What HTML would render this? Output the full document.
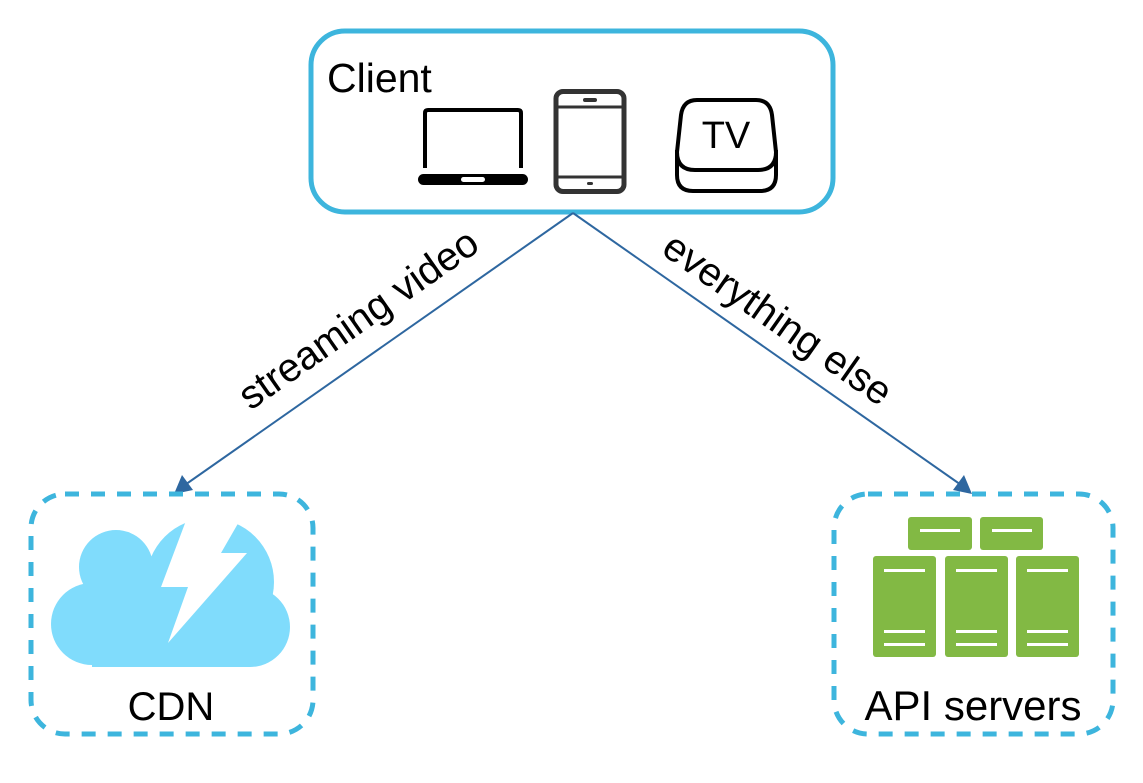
<!DOCTYPE html>
<html><head><meta charset="utf-8"><style>
html,body{margin:0;padding:0;background:#fff;}
svg{display:block;}
text{font-family:"Liberation Sans",Arial,sans-serif;fill:#000;}
</style></head><body>
<svg width="1143" height="783" viewBox="0 0 1143 783" xmlns="http://www.w3.org/2000/svg">
<!-- Client box -->
<rect x="311" y="31" width="522" height="181" rx="34" fill="#fff" stroke="#3db5dd" stroke-width="5"/>
<text x="327" y="92" font-size="41">Client</text>
<!-- laptop -->
<path d="M425 168 V113 Q425 110 428 110 H518 Q521 110 521 113 V168" fill="none" stroke="#000" stroke-width="4"/>
<rect x="418" y="174" width="110" height="11" rx="5.5" fill="#000"/>
<rect x="461" y="177" width="24" height="5" rx="2.5" fill="#fff"/>
<!-- phone -->
<rect x="556" y="91.5" width="68" height="100" rx="7" fill="#fff" stroke="#333" stroke-width="5"/>
<line x1="556" y1="107" x2="624" y2="107" stroke="#333" stroke-width="3"/>
<line x1="556" y1="177" x2="624" y2="177" stroke="#333" stroke-width="3"/>
<rect x="583" y="98" width="14" height="4" rx="2" fill="#333"/>
<rect x="587" y="182" width="6" height="3" rx="1.5" fill="#333"/>
<!-- TV -->
<path d="M677 150 V175 Q677 191 693 191 H760 Q776 191 776 175 V150" fill="#fff" stroke="#000" stroke-width="4"/>
<path d="M697 100 H756 Q770 100 772 115 L776 152 Q776 170 758 170 H695 Q677 170 677 152 L681 115 Q683 100 697 100 Z" fill="#fff" stroke="#000" stroke-width="4"/>
<text x="726" y="148" font-size="38" text-anchor="middle">TV</text>
<!-- connectors -->
<line x1="573" y1="213" x2="182" y2="487" stroke="#2e67a0" stroke-width="2"/>
<line x1="573" y1="213" x2="964" y2="487" stroke="#2e67a0" stroke-width="2"/>
<polygon points="174,494 182,475 193,490" fill="#2e67a0"/>
<polygon points="972,494 964,475 953,490" fill="#2e67a0"/>
<text x="0" y="0" font-size="40" text-anchor="middle" transform="translate(366,330) rotate(-35)">streaming video</text>
<text x="0" y="0" font-size="40" text-anchor="middle" transform="translate(770,330) rotate(35)">everything else</text>
<!-- CDN box -->
<rect x="31" y="494" width="282" height="240" rx="34" fill="none" stroke="#3db5dd" stroke-width="5" stroke-dasharray="14 12"/>
<g fill="#80dcfc">
<circle cx="92" cy="624" r="41"/>
<circle cx="116" cy="567" r="37"/>
<circle cx="210" cy="582" r="64"/>
<circle cx="250" cy="627" r="40"/>
<rect x="92" y="570" width="158" height="97"/>
</g>
<polygon points="187,505 187,518 161,587 188,587 168,643 247,553 221,553 240,520 240,505" fill="#fff"/>
<text x="171" y="720" font-size="40" text-anchor="middle">CDN</text>
<!-- API box -->
<rect x="834" y="494" width="279" height="240" rx="34" fill="none" stroke="#3db5dd" stroke-width="5" stroke-dasharray="14 12"/>
<g fill="#82b944">
<rect x="908" y="517" width="64" height="33" rx="3"/>
<rect x="980" y="517" width="63" height="33" rx="3"/>
<rect x="873" y="556" width="63" height="101" rx="3"/>
<rect x="945" y="556" width="63" height="101" rx="3"/>
<rect x="1016" y="556" width="63" height="101" rx="3"/>
</g>
<g fill="#fff">
<rect x="920" y="529" width="40" height="3"/>
<rect x="992" y="529" width="40" height="3"/>
<rect x="884" y="569" width="41" height="3"/><rect x="884" y="630" width="41" height="3"/><rect x="884" y="643" width="41" height="3"/>
<rect x="956" y="569" width="41" height="3"/><rect x="956" y="630" width="41" height="3"/><rect x="956" y="643" width="41" height="3"/>
<rect x="1027" y="569" width="41" height="3"/><rect x="1027" y="630" width="41" height="3"/><rect x="1027" y="643" width="41" height="3"/>
</g>
<text x="973" y="720" font-size="42" text-anchor="middle">API servers</text>
</svg>
</body></html>
